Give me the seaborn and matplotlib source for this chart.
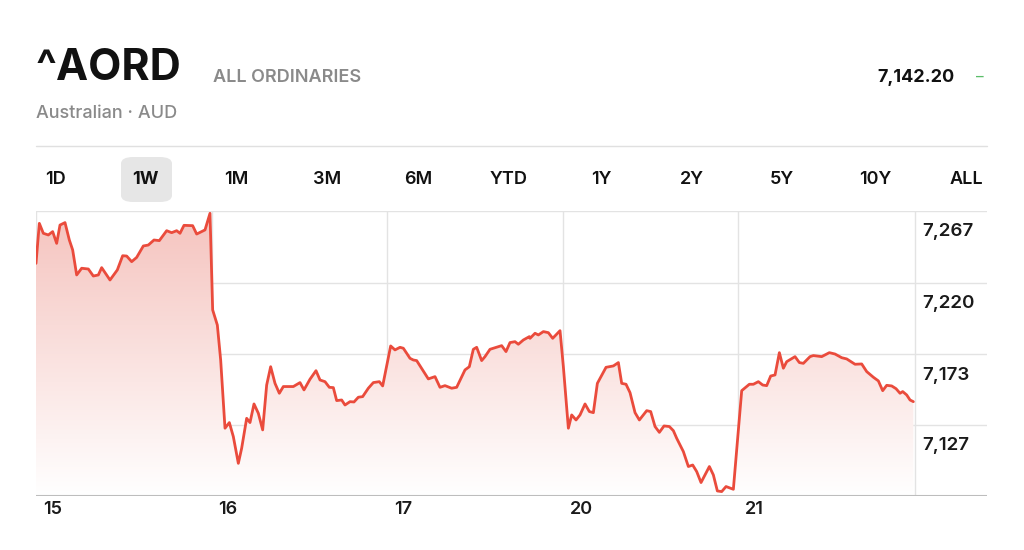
import numpy as np
import pandas as pd
import seaborn as sns
import matplotlib.pyplot as plt
from matplotlib.patches import FancyBboxPatch
from matplotlib.colors import LinearSegmentedColormap

sns.set_theme(style="white")
plt.rcParams['font.family'] = ['Inter', 'DejaVu Sans']

# readings: session position (chart sample position) and price
pos_a = [18,28,40,55,68,80,90,105,118,128,140,155,175,190,205,215,240,262,278,290,305,320,340,355,372,388,410,425,440,450,462,488,500,525,540,
         548,562,572,585,598,610,625,635,650,660,672,685,698,710,722,735,748,760,790,810,822,840,858,870,885,898,910,920,935,945,960,972,985,998,1015,1030,1048,1058,
         1082,1095,1110,1120,1140,1150,1160,1195,1215,1230,1245,1265,1280,1305,1318,1330,1340,1355,1365,1380,1415,1428,1440,1455,1465,1480,1498]
price_a = [7232.7,7258.9,7252.4,7251.3,7253.5,7245.8,7257.8,7259.4,7248.0,7241.5,7225.1,7229.5,7229.0,7224.4,7225.1,7229.9,7221.8,7228.4,7237.7,7237.5,7233.8,7236.6,7244.1,7244.7,7248.0,7247.6,7254.1,7252.8,7254.1,7252.4,7257.6,7257.4,7251.9,7254.6,7265.5,
           7202.2,7192.3,7169.4,7124.7,7128.4,7119.2,7101.7,7111.6,7131.2,7128.4,7140.6,7134.5,7123.6,7153.0,7165.0,7154.1,7147.6,7152.0,7152.0,7154.6,7149.8,7156.8,7162.4,7156.3,7155.2,7151.5,7151.3,7142.8,7143.2,7139.9,7142.1,7141.9,7145.0,7145.4,7150.9,7154.6,7155.2,7152.4,
           7178.6,7176.0,7177.7,7177.1,7170.5,7169.4,7169.0,7157.0,7158.5,7151.5,7152.6,7150.9,7151.5,7162.9,7165.0,7176.4,7177.7,7169.0,7171.6,7176.4,7178.8,7174.9,7180.8,7181.4,7179.7,7182.5,7184.7]
pos_b = [30,45,55,70,85,98,120,130,145,155,168,180,195,208,220,232,258,280,295,305,318,330,345,358,380,392,405,418,432,448,460,470,490,505,518,530,543,555,568,580,592,605,618,640,
         665,688,700,715,728,740,752,765,778,790,800,825,838,850,870,880,905,928,945,965,980,1005,1025,1040,1060,1075,1088,1100,1115,1128,1140,1148,1160,1170,1180]
price_b = [7183.6,7186.9,7185.8,7188.0,7187.3,7183.6,7188.6,7165.0,7124.7,7133.4,7130.1,7133.4,7140.6,7135.6,7134.9,7154.1,7164.6,7165.5,7167.7,7154.1,7153.5,7148.0,7134.9,7130.1,7136.2,7135.6,7125.8,7122.0,7126.2,7125.8,7123.1,7118.1,7109.4,7099.6,7100.6,7096.3,7089.1,7094.1,7099.6,7094.1,7083.6,7083.2,7086.5,7084.7,
           7149.3,7153.5,7153.5,7155.2,7153.0,7152.6,7158.9,7159.6,7174.2,7164.0,7168.3,7171.6,7167.7,7167.2,7171.6,7172.3,7171.6,7174.2,7173.3,7170.9,7170.1,7166.6,7166.8,7161.8,7158.1,7155.7,7149.3,7152.8,7152.4,7150.6,7147.6,7148.7,7146.5,7143.2,7142.1]

days = ["15", "16", "17", "20", "21"]
y_ticks = [7267, 7220, 7173, 7127]
ranges = ["1D", "1W", "1M", "3M", "6M", "YTD", "1Y", "2Y", "5Y", "10Y", "ALL"]

t = np.concatenate([np.array(pos_a) / 526.5 - 0.0342, 2.758 + np.array(pos_b) / 526.5])
p = np.array(price_a + price_b)
df = pd.DataFrame({"t": t, "price": p})

fig = plt.figure(figsize=(10.24, 5.5), dpi=100)
ax = fig.add_axes([36/1024, 1-496/550, 951/1024, 285/550])
ymin, ymax = 7080.3, 7267.0
xmax = 951/175.5

red = "#EA4B3C"
grad = np.linspace(0, 1, 256).reshape(-1, 1)
cmap = LinearSegmentedColormap.from_list("g", ["#FFFFFF", "#F5C3BE"])
im = ax.imshow(grad, extent=[0, t.max(), ymin, ymax], origin="lower", aspect="auto", cmap=cmap, zorder=1)
poly = ax.fill_between(df.t, df.price, ymin, color="none")
im.set_clip_path(poly.get_paths()[0], transform=ax.transData)

for yv in y_ticks:
    ax.axhline(yv, color="#E3E3E3", lw=1, zorder=0.5)
for xv in range(0, 5):
    ax.axvline(xv, color="#E3E3E3", lw=1, zorder=0.5)
ax.axvline(5.01, color="#E3E3E3", lw=1, zorder=0.5)
ax.axhline(ymin, color="#BDBDBD", lw=1.5, zorder=3)

sns.lineplot(data=df, x="t", y="price", ax=ax, color=red, lw=2, zorder=4)

ax.set_xlim(0, xmax)
ax.set_ylim(ymin, ymax)
ax.set_axis_off()

for i, d in enumerate(days):
    ax.text(i + 0.04, ymin - 3, d, ha="left", va="top", fontsize=13, fontweight="semibold", color="#1a1a1a")
for yv in y_ticks:
    ax.text(5.05, yv - 8, f"{yv:,}", ha="left", va="top", fontsize=13.5, fontweight="semibold", color="#1a1a1a")

# header
fig.text(36/1024, 1-68/550, "^AORD", fontsize=31, fontweight="bold", va="center", ha="left", color="#111111")
fig.text(213/1024, 1-77/550, "ALL ORDINARIES", fontsize=13, fontweight="semibold", va="center", ha="left", color="#8A8A8A")
fig.text(36/1024, 1-113/550, "Australian · AUD", fontsize=13, fontweight="medium", va="center", ha="left", color="#8A8A8A")
fig.text(955/1024, 1-77/550, "7,142.20", fontsize=13, fontweight="bold", va="center", ha="right", color="#111111")
fig.text(980/1024, 1-77/550, "–", fontsize=11, va="center", ha="center", color="#5BBE6A")
fig.add_artist(plt.Line2D([36/1024, 987/1024], [1-146/550, 1-146/550], color="#E0E0E0", lw=1))

xs = [55, 145, 236, 327, 418, 509, 601, 692, 782, 875, 966]
fig.add_artist(FancyBboxPatch((121/1024, 1-202/550), 51/1024, 45/550,
                              boxstyle="round,pad=0,rounding_size=0.012", transform=fig.transFigure,
                              facecolor="#E6E6E6", edgecolor="none"))
for x, r in zip(xs, ranges):
    fig.text(x/1024, 1-180/550, r, fontsize=13, fontweight="bold" if r == "1W" else "semibold",
             ha="center", va="center", color="#111111")

fig.savefig("out.png", dpi=100, facecolor="white")
